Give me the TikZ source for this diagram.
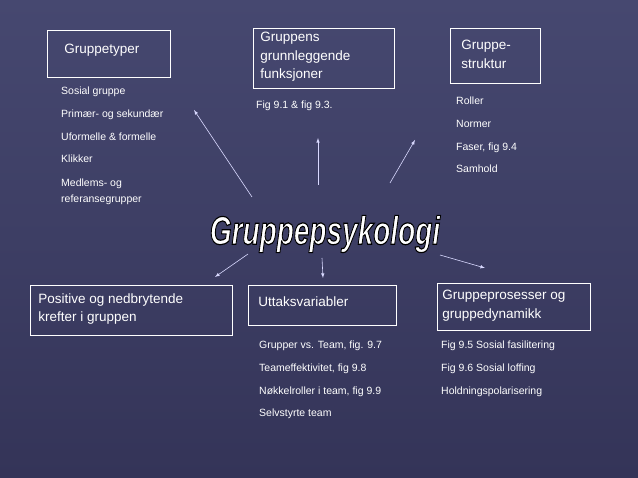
\documentclass[tikz,border=0pt]{standalone}
\usepackage{fontspec}
\setmainfont{Liberation Sans}
\begin{document}
\begin{tikzpicture}[x=1pt,y=-1pt,
 box/.style={draw=white,line width=0.6pt,text=white,font=\fontsize{13.5}{18.5}\selectfont,align=left,anchor=north west,inner sep=0pt},
 lst/.style={text=white,font=\fontsize{10.5}{22.7}\selectfont,align=left,anchor=north west,inner sep=0pt},
 arr/.style={draw=white!85!blue,line width=0.6pt,-latex}]
\shade[top color={rgb,255:red,70;green,72;blue,112}, bottom color={rgb,255:red,52;green,52;blue,88}] (0,0) rectangle (638,478);
\useasboundingbox (0,0) rectangle (638,478);
\draw[box] (47,30) rectangle (170,77); \node[box,draw=none] (gt) at (64,44) {Gruppetyper};
\draw[box] (253,28) rectangle (394,88); \node[box,draw=none] (gg) at (260,32) {Gruppens\\grunnleggende\\funksjoner};
\draw[box] (450,28) rectangle (540,83); \node[box,draw=none] (gs) at (461,40) {Gruppe-\\struktur};
\draw[box] (30,285) rectangle (232,335); \node[box,draw=none] (pn) at (38,293) {Positive og nedbrytende\\krefter i gruppen};
\draw[box] (248,285) rectangle (396,325); \node[box,draw=none] (uv) at (258,296) {Uttaksvariabler};
\draw[box] (437,283) rectangle (590,330); \node[box,draw=none] (gp) at (442,290) {Gruppeprosesser og\\gruppedynamikk};
\node[lst] (l1) at (61,87) {Sosial gruppe\\Primær- og sekundær\\Uformelle \& formelle\\Klikker};
\node[lst,font=\fontsize{10.5}{16}\selectfont] (l1b) at (61,179) {Medlems- og\\referansegrupper};
\node[lst] (l2) at (256,101) {Fig 9.1 \& fig 9.3.};
\node[lst] (l3) at (456,97) {Roller\\Normer\\Faser, fig 9.4\\Samhold};
\node[lst] (l4) at (259,341) {Grupper vs. Team, fig. 9.7\\Teameffektivitet, fig 9.8\\Nøkkelroller i team, fig 9.9\\Selvstyrte team};
\node[lst] (l5) at (441,341) {Fig 9.5 Sosial fasilitering\\Fig 9.6 Sosial loffing\\Holdningspolarisering};
\node[text=white,font=\fontsize{40}{42}\selectfont\bfseries\itshape] (t) at (325,234) {\special{pdf:literal 2 Tr 1.2 w 0 0 0 RG}\scalebox{0.7}[1]{Gruppepsykologi}\special{pdf:literal 0 Tr}};
\coordinate (a1) at (252,197); \coordinate (b1) at (194,110);
\coordinate (a2) at (318,185); \coordinate (b2) at (318,138);
\coordinate (a3) at (390,183); \coordinate (b3) at (415,140);
\coordinate (a4) at (248,254); \coordinate (b4) at (215,277);
\coordinate (a5) at (322,258); \coordinate (b5) at (323,278);
\coordinate (a6) at (440,255); \coordinate (b6) at (485,268);
\foreach \i in {1,...,6} \draw[arr] (a\i) -- (b\i);
\end{tikzpicture}
\end{document}
